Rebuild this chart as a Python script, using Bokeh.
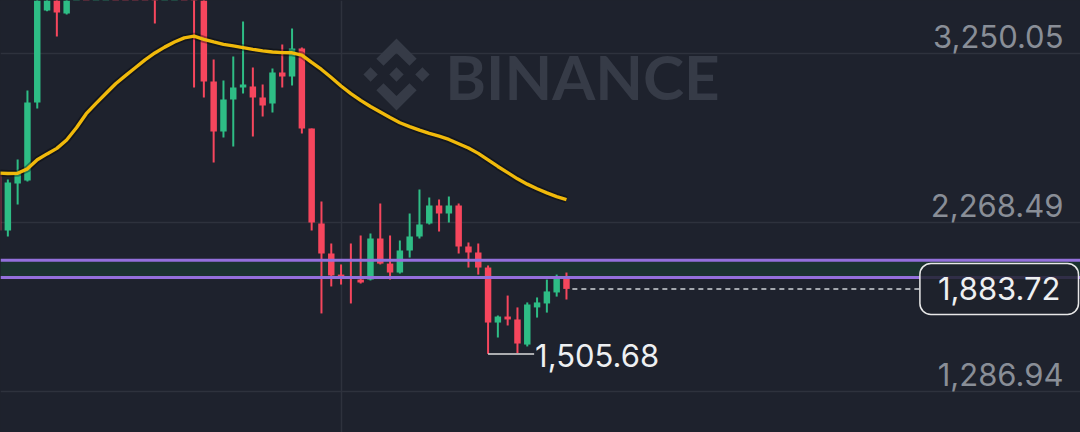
from bokeh.plotting import figure
from bokeh.models import Range1d, Grid, FixedTicker, Span, BoxAnnotation, Label, GlobalInlineStyleSheet
from bokeh.core.properties import value
from bokeh.embed import file_html
from bokeh.resources import INLINE

# ---------------- data ----------------
idx = list(range(-1, 58))
opens = [2555, 2223, 2497, 2514, 2968, 3503, 3600, 3486, 3640, 3700,
         3680, 3740, 3790, 3760, 3720, 3690, 3660, 3600, 3650, 3700,
         3640, 3575, 3090, 2799, 2985, 3055, 3061, 2997, 2962, 3142,
         3119, 3282, 2817, 2264, 2090, 1967, 1956, 1938, 1938, 2177,
         2031, 1979, 2107, 2188, 2264, 2369, 2322, 2369, 2130, 2095,
         2008, 1688, 1723, 1706, 1560, 1776, 1799, 1863, 1950]
highs = [2570, 2520, 2636, 3038, 3700, 3680, 3650, 3700, 3720, 3780,
         3760, 3820, 3850, 3800, 3760, 3740, 3700, 3680, 3720, 3740,
         3680, 3600, 3218, 3096, 3235, 3439, 3172, 3073, 3166, 3305,
         3398, 3288, 2817, 2392, 2148, 2026, 2148, 2194, 2206, 2380,
         2194, 2165, 2322, 2462, 2415, 2404, 2421, 2380, 2154, 2148,
         2020, 1729, 1845, 1776, 1805, 1834, 1938, 1967, 1979]
lows = [2212, 2188, 2375, 2508, 2933, 3498, 3352, 3480, 3600, 3650,
        3620, 3700, 3720, 3680, 3640, 3620, 3427, 3575, 3600, 3620,
        3055, 2997, 2619, 2764, 2712, 3020, 2770, 2886, 2910, 3055,
        3067, 2788, 2223, 1741, 1898, 1909, 1799, 1915, 1933, 2026,
        1938, 1973, 2066, 2177, 2258, 2218, 2270, 2090, 2008, 1967,
        1505.68, 1601, 1671, 1510, 1549, 1717, 1746, 1839, 1822]
closes = [2223, 2503, 2555, 2968, 3640, 3620, 3491, 3640, 3700, 3680,
          3740, 3790, 3760, 3720, 3690, 3660, 3600, 3650, 3700, 3640,
          3575, 3090, 2799, 2985, 3055, 3073, 2997, 2950, 3142, 3119,
          3282, 2817, 2270, 2090, 1962, 1950, 1944, 1921, 2177, 2031,
          1979, 2107, 2188, 2258, 2369, 2322, 2369, 2130, 2095, 2008,
          1688, 1723, 1706, 1566, 1793, 1805, 1869, 1944, 1883.72]
ma = [2558, 2555, 2556, 2582, 2635, 2669, 2701, 2750, 2821, 2903,
      2963, 3020, 3077, 3124, 3170, 3216, 3256, 3290, 3320, 3344,
      3354, 3335, 3320, 3306, 3297, 3287, 3277, 3268, 3262, 3258,
      3257, 3244, 3201, 3160, 3113, 3064, 3020, 2980, 2945, 2913,
      2881, 2850, 2828, 2807, 2789, 2772, 2753, 2728, 2703, 2672,
      2634, 2596, 2560, 2524, 2493, 2466, 2442, 2421, 2403]
ytick_vals = [3250.05, 2268.49, 1286.94]
ytick_labels = ["3,250.05", "2,268.49", "1,286.94"]
level_lines = [2050, 1950]
grid_x = [34]

# ---------------- style ----------------
BG = "#1e222d"
GREEN = "#2ebd85"
RED = "#f6465d"
GRID = "#2e323d"
FONT = "Inter"
FSIZE = "31px"
W, H = 1080, 432
x_start, x_end = -0.75, 109.45
y_start, y_end = 1048.5, 3561.2


def px2x(px):
    return x_start + px / W * (x_end - x_start)


def px2y(py):
    return y_end - py / H * (y_end - y_start)


p = figure(width=W, height=H, x_range=Range1d(x_start, x_end), y_range=Range1d(y_start, y_end),
           x_axis_location=None, y_axis_location=None, toolbar_location=None,
           output_backend="svg", min_border=0)
p.grid.visible = False
p.stylesheets = [GlobalInlineStyleSheet(css="html,body{margin:0;padding:0;background:%s;overflow:hidden;}" % BG)]
p.background_fill_color = BG
p.border_fill_color = BG
p.outline_line_color = None

p.add_layout(Grid(dimension=1, ticker=FixedTicker(ticks=ytick_vals), grid_line_color=GRID, grid_line_width=1.5))
p.add_layout(Grid(dimension=0, ticker=FixedTicker(ticks=grid_x), grid_line_color=GRID, grid_line_width=1.5))

# band between level lines
p.add_layout(BoxAnnotation(bottom=min(level_lines), top=max(level_lines), fill_color="#1b3330",
                           fill_alpha=1.0, line_color=None, level="underlay"))

# watermark
wm_color = "#363b47"
cx, cy, s = 396, 74, 36
logo_shapes = [
    [(0, 0.2), (0.2, 0), (0, -0.2), (-0.2, 0)],
    [(-0.92, 0), (-0.72, 0.2), (-0.52, 0), (-0.72, -0.2)],
    [(0.92, 0), (0.72, 0.2), (0.52, 0), (0.72, -0.2)],
    [(-0.56, 0.44), (0, 1.0), (0.56, 0.44), (0.36, 0.24), (0, 0.6), (-0.36, 0.24)],
    [(-0.56, -0.44), (0, -1.0), (0.56, -0.44), (0.36, -0.24), (0, -0.6), (-0.36, -0.24)],
]
p.patches(xs=[[px2x(cx + u * s) for u, v in sh] for sh in logo_shapes],
          ys=[[px2y(cy - v * s) for u, v in sh] for sh in logo_shapes],
          fill_color=wm_color, line_color=None)
p.text(x=[px2x(582)], y=[px2y(75)], text=["BINANCE"], text_align="center", text_baseline="middle",
       text_font=value("Lato"), text_font_style="bold", text_font_size="62px", text_color=wm_color)

# candles
colors = [GREEN if c >= o else RED for o, c in zip(opens, closes)]
p.segment(x0=idx, y0=lows, x1=idx, y1=highs, line_color=colors, line_width=2)
p.vbar(x=idx, width=0.66, top=[max(o, c) for o, c in zip(opens, closes)],
       bottom=[min(o, c) for o, c in zip(opens, closes)], fill_color=colors, line_color=None)

# moving average
p.line(idx, ma, line_color="#000000", line_alpha=0.35, line_width=7)
p.line(idx, ma, line_color="#f0b90b", line_width=3.4)

# level lines
for lv in level_lines:
    p.add_layout(Span(location=lv, dimension="width", line_color="#9370db", line_width=3))

# price labels (right side), sitting above their grid lines
p.text(x=[px2x(1063)] * len(ytick_vals), y=ytick_vals, text=ytick_labels, text_align="right",
       text_baseline="middle", y_offset=-17.5, text_font=value(FONT), text_font_size=FSIZE,
       text_color="#898e97")

# low marker
low_val = min(lows)
low_i = idx[lows.index(low_val)]
p.segment(x0=[low_i], y0=[low_val], x1=[low_i + 4.7], y1=[low_val], line_color="#dcdcdc", line_width=1.5)
p.text(x=[low_i + 4.8], y=[low_val], text=[f"{low_val:,.2f}"], text_align="left", text_baseline="middle",
       y_offset=2, text_font=value(FONT), text_font_size=FSIZE, text_color="#eef0f2")

# last price
last = closes[-1]
p.segment(x0=[idx[-1] + 0.6], y0=[last], x1=[px2x(919)], y1=[last], line_dash="5 4",
          line_color="#cfd3d8", line_width=1.5)
p.add_layout(Label(x=px2x(1078), y=last, text=f"{last:,.2f}", text_align="right", text_baseline="middle",
                   text_font=FONT, text_font_size=FSIZE, text_color="#eef0f2",
                   background_fill_color=BG, background_fill_alpha=0.85,
                   border_line_color="#e8e8e8", border_line_width=1.5, border_radius=11,
                   padding=(18, 14)))

open("out.html", "w").write(file_html(p, INLINE))
